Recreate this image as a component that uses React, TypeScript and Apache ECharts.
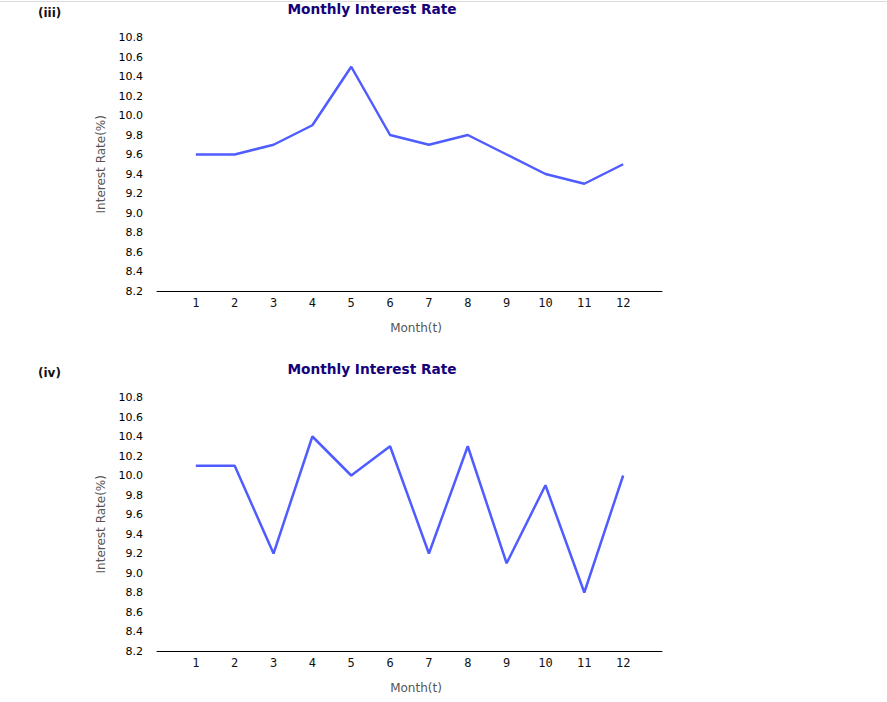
import { useEffect, useRef } from 'react';
import * as echarts from 'echarts';

const months = [1, 2, 3, 4, 5, 6, 7, 8, 9, 10, 11, 12];
const rateIII = [9.6, 9.6, 9.7, 9.9, 10.5, 9.8, 9.7, 9.8, 9.6, 9.4, 9.3, 9.5];
const rateIV = [10.1, 10.1, 9.2, 10.4, 10.0, 10.3, 9.2, 10.3, 9.1, 9.9, 8.8, 10.0];
const panelLabels = ['(iii)', '(iv)'];
const chartTitle = 'Monthly Interest Rate';

const GRID_TOPS = [37.5, 397.5];
const GRID_H = 253.5;
const LINE_COLOR = '#4f5cff';

export default function App() {
  const ref = useRef<HTMLDivElement>(null);

  useEffect(() => {
    if (!ref.current) return;
    const chart = echarts.init(ref.current, undefined, { renderer: 'svg' });

    const grids = GRID_TOPS.map((top) => ({ left: 157, width: 505, top, height: GRID_H }));

    const xAxes = GRID_TOPS.map((_, i) => ({
      type: 'value' as const,
      gridIndex: i,
      min: 0,
      max: 13,
      interval: 1,
      axisLine: { show: true, lineStyle: { color: '#000', width: 1 } },
      axisTick: { show: false },
      splitLine: { show: false },
      axisLabel: {
        margin: 6,
        fontFamily: 'DejaVu Sans Mono',
        fontSize: 12,
        color: '#111',
        formatter: (v: number) => (months.includes(v) ? String(v) : ''),
      },
      name: 'Month(t)',
      nameLocation: 'middle' as const,
      nameGap: 31,
      nameTextStyle: {
        fontFamily: 'DejaVu Sans',
        fontSize: 12,
        color: '#555',
        padding: [0, 0, 0, 13],
      },
    }));

    const yAxes = GRID_TOPS.map((_, i) => ({
      type: 'value' as const,
      gridIndex: i,
      min: 8.2,
      max: 10.8,
      interval: 0.2,
      axisLine: { show: false },
      axisTick: { show: false },
      splitLine: { show: false },
      axisLabel: {
        margin: 14,
        fontFamily: 'DejaVu Sans',
        fontSize: 11,
        color: '#000',
        verticalAlign: 'middle' as const,
        padding: [0, 0, 2, 0],
        formatter: (v: number) => v.toFixed(1),
      },
      name: 'Interest Rate(%)',
      nameLocation: 'middle' as const,
      nameGap: 50,
      nameTextStyle: { fontFamily: 'DejaVu Sans', fontSize: 12, color: '#555' },
    }));

    const series = [rateIII, rateIV].map((vals, i) => ({
      type: 'line' as const,
      xAxisIndex: i,
      yAxisIndex: i,
      data: months.map((m, j) => [m, vals[j]]),
      showSymbol: false,
      lineStyle: { color: LINE_COLOR, width: 2.5 },
    }));

    chart.setOption({
      animation: false,
      title: GRID_TOPS.map((top) => ({
        text: chartTitle,
        left: 367,
        top: top - 41,
        textAlign: 'center',
        textStyle: { fontFamily: 'DejaVu Sans', fontSize: 13.7, fontWeight: 'bold', color: '#14007a' },
      })),
      grid: grids,
      xAxis: xAxes,
      yAxis: yAxes,
      series,
      graphic: [
        {
          type: 'rect',
          shape: { x: 0, y: 1, width: 887, height: 1 },
          style: { fill: '#dcdcdc' },
        },
        ...panelLabels.map((t, i) => ({
          type: 'text',
          left: 38,
          top: GRID_TOPS[i] - 31,
          style: {
            text: t,
            font: 'bold 12px "DejaVu Sans"',
            fill: '#111',
          },
        })),
      ],
    });

    return () => chart.dispose();
  }, []);

  return (
    <div
      ref={ref}
      style={{ position: 'absolute', left: 0, top: 0, width: 887, height: 702, background: '#fff' }}
    />
  );
}
